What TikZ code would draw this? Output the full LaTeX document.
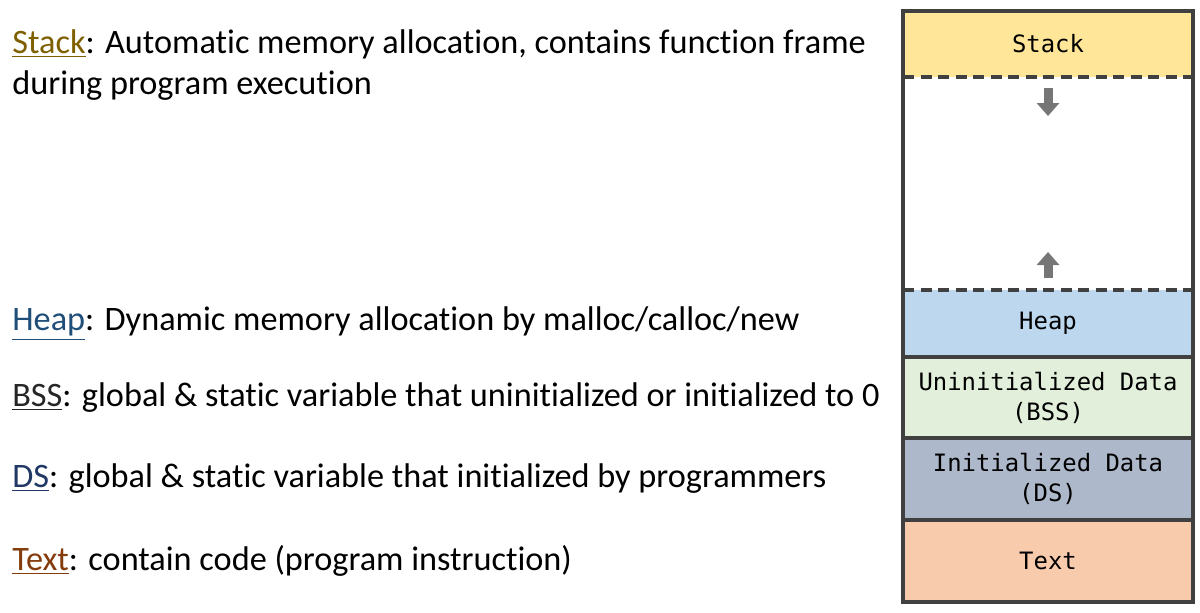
\documentclass[tikz,border=0pt]{standalone}
\usepackage{fontspec}
\setmainfont[Ligatures=NoCommon]{Carlito}
\newfontfamily\segfont{DejaVu Sans Mono}
\usetikzlibrary{positioning,arrows.meta}

\definecolor{stackfill}{HTML}{FFE699}
\definecolor{heapfill}{HTML}{BDD7EE}
\definecolor{bssfill}{HTML}{E2EFDA}
\definecolor{dsfill}{HTML}{ADB9CA}
\definecolor{textfill}{HTML}{F8CBAD}
\definecolor{framecol}{HTML}{404040}
\definecolor{arrowcol}{HTML}{767676}
\definecolor{stackword}{HTML}{7F6000}
\definecolor{heapword}{HTML}{1F4E79}
\definecolor{bssword}{HTML}{262626}
\definecolor{dsword}{HTML}{1F3864}
\definecolor{textword}{HTML}{843C0C}

\tikzset{
  seg/.style={minimum width=5.8cm, inner sep=0pt, outer sep=0pt, align=center,
    font=\segfont\fontsize{13.6}{17}\selectfont},
  info/.style={anchor=west, inner sep=0pt, align=left,
    font=\fontsize{19.5}{22.8}\selectfont},
  border/.style={draw=framecol, line width=1.8pt},
  gapline/.style={draw=framecol, line width=2pt, dash pattern=on 0.22cm off 0.13cm},
  growarrow/.style={draw=arrowcol, line width=0.18cm,
    -{Triangle[width=0.44cm, length=0.26cm]}}
}

\begin{document}
\begin{tikzpicture}
        \useasboundingbox (0,0) rectangle (24,-12.24);
        % memory column
        \node[seg, fill=stackfill, minimum height=1.32cm, anchor=north west] (stack) at (18.06,-0.22) {Stack};
        \node[seg, minimum height=4.26cm, below=0pt of stack] (free) {};
        \node[seg, fill=heapfill, minimum height=1.34cm, below=0pt of free] (heap) {Heap};
        \node[seg, fill=bssfill, minimum height=1.62cm, below=0pt of heap] (bss) {Uninitialized Data\\(BSS)};
        \node[seg, fill=dsfill, minimum height=1.64cm, below=0pt of bss] (ds) {Initialized Data\\(DS)};
        \node[seg, fill=textfill, minimum height=1.64cm, below=0pt of ds] (text) {Text};
        \draw[border] (stack.north west) rectangle (text.south east);
        \draw[border] (heap.south west) -- (heap.south east);
        \draw[border] (bss.south west) -- (bss.south east);
        \draw[border] (ds.south west) -- (ds.south east);
        \draw[gapline] (stack.south west) -- (stack.south east);
        \draw[gapline] (heap.north west) -- (heap.north east);
        % growth arrows
        \coordinate (downfrom) at ([yshift=-0.22cm]stack.south);
        \coordinate (downto) at ([yshift=-0.78cm]stack.south);
        \coordinate (upfrom) at ([yshift=0.24cm]heap.north);
        \coordinate (upto) at ([yshift=0.76cm]heap.north);
        \draw[growarrow] (downfrom) -- (downto);
        \draw[growarrow] (upfrom) -- (upto);
        % descriptions
        \coordinate (L) at (0.24,0);
        \node[info, anchor=base west] (stackinfo) at ([yshift=-1.0cm]L |- stack) {\textcolor{stackword}{\underline{Stack}}: Automatic memory allocation, contains function frame\\during program execution};
        \node[info] (heapinfo) at (L |- heap) {\textcolor{heapword}{\underline{Heap}}: Dynamic memory allocation by malloc/calloc/new};
        \node[info] (bssinfo) at (L |- bss) {\textcolor{bssword}{\underline{BSS}}: global \& static variable that uninitialized or initialized to 0};
        \node[info] (dsinfo) at (L |- ds) {\textcolor{dsword}{\underline{DS}}: global \& static variable that initialized by programmers};
        \node[info] (textinfo) at (L |- text) {\textcolor{textword}{\underline{Text}}: contain code (program instruction)};
    \end{tikzpicture}
\end{document}
